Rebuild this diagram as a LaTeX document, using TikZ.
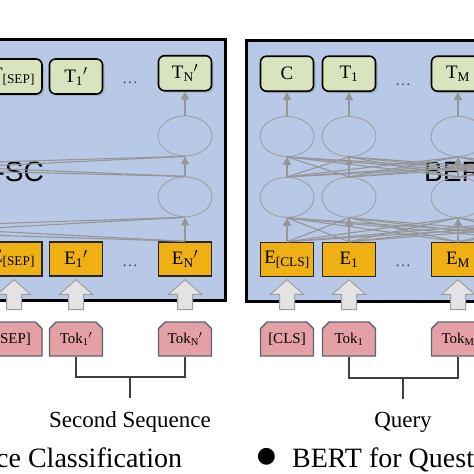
\documentclass[tikz,border=0pt]{standalone}
\usepackage{fontspec}
\setmainfont{Liberation Serif}
\newfontfamily\labelsans{Liberation Sans}
\newfontfamily\symfont{DejaVu Sans}
\usetikzlibrary{arrows.meta, positioning, shapes.geometric, shapes.arrows, shapes.misc, shadows}

\definecolor{panelblue}{RGB}{183,201,230}
\definecolor{outgreen}{RGB}{216,228,190}
\definecolor{embgold}{RGB}{238,176,18}
\definecolor{tokpink}{RGB}{228,160,164}
\definecolor{tokline}{RGB}{90,100,115}
\definecolor{cellgray}{RGB}{160,160,160}
\definecolor{linkgray}{RGB}{150,150,150}

\tikzset{
  panel/.style={draw=black, line width=3pt, fill=panelblue},
  outbox/.style={draw=black, line width=1.6pt, rounded corners=6pt, fill=outgreen,
    minimum width=53pt, minimum height=35pt, inner sep=0pt, font=\fontsize{19}{19}\selectfont,
    drop shadow={shadow xshift=2pt, shadow yshift=-2pt, opacity=0.35}},
  embbox/.style={draw=black!85, line width=1.4pt, fill=embgold,
    minimum width=53pt, minimum height=34pt, inner sep=0pt, font=\fontsize{19}{19}\selectfont},
  tokbox/.style={chamfered rectangle, chamfered rectangle corners={north west,north east},
    chamfered rectangle xsep=3.5pt, draw=tokline, line width=1.4pt, fill=tokpink,
    minimum width=53pt, minimum height=34pt, inner sep=0pt, font=\fontsize{15}{15}\selectfont},
  sepwide/.style={minimum width=58pt},
  cell/.style={ellipse, draw=cellgray, line width=0.9pt, minimum width=54pt, minimum height=40pt, inner sep=0pt},
  flow/.style={draw=linkgray, line width=1.3pt, -{Triangle[width=8pt,length=8pt]}},
  link/.style={draw=linkgray, line width=1.1pt},
  bigarrow/.style={single arrow, shape border rotate=90, draw=gray!75, fill=gray!22, line width=1pt,
    minimum height=30pt, minimum width=32pt, single arrow head extend=9pt,
    single arrow tip angle=97, inner sep=7pt},
  dots/.style={font=\fontsize{16}{16}\selectfont, text=black!70, inner sep=0pt},
  bracket/.style={draw=black!75, line width=1.5pt},
  seqlabel/.style={font=\fontsize{23}{23}\selectfont, anchor=north, inner ysep=13pt},
  caption/.style={font=\fontsize{28}{28}\selectfont, inner sep=0pt},
  bigname/.style={font=\labelsans\fontsize{28}{28}\selectfont, inner sep=0pt},
}

\begin{document}
\begin{tikzpicture}[x=1pt, y=-1pt]
  \useasboundingbox (0,0) rectangle (474,474);
  \clip (0,0) rectangle (474,474);

  % Panels
  \draw[panel] (-300,39) rectangle (225,300);
  \draw[panel] (246,40) rectangle (700,301);

  % Panel names
  \node[bigname, anchor=east] (scname) at (44,172) {-SC};
  \node[bigname, anchor=west] (qaname) at (424,172) {BER};

  % Left panel: embeddings
  \node[embbox, sepwide] (esep) at (13,259) {E\textsubscript{[SEP]}};
  \node[embbox] (eonep) at (76,259) {E\textsubscript{1}$'$};
  \node[dots] (edotsl) at (130,266) {\dots};
  \node[embbox] (ennp) at (185,259) {E\textsubscript{N}$'$};

  % Left panel: hidden layers and outputs
  \node[cell] (lownp) [above=24pt of ennp] {};
  \node[cell] (upnp) [above=20pt of lownp] {};
  \node[outbox, sepwide] (tsep) at (13,76.5) {T\textsubscript{[SEP]}};
  \node[outbox] (tonep) at (76,76.5) {T\textsubscript{1}$'$};
  \node[dots] (tdotsl) at (130,83) {\dots};
  \node[outbox] (tnp) [above=24pt of upnp] {T\textsubscript{N}$'$};

  % Columns further left
  \foreach \c/\x in {fa/-260, fb/-555} {
    \coordinate (\c emb) at (\x,242);
    \coordinate (\c low) at (\x,218);
    \coordinate (\c lowtop) at (\x,178);
    \coordinate (\c up) at (\x,158);
  }
  \foreach \c in {fa, fb} {
    \draw[link] (ennp.north) -- (\c low);
    \draw[link] (\c emb) -- (lownp.south);
    \draw[link] (lownp.north) -- (\c up);
    \draw[link] (\c lowtop) -- (upnp.south);
  }
  \draw[flow] (ennp) -- (lownp);
  \draw[flow] (lownp) -- (upnp);
  \draw[flow] (upnp) -- (tnp);

  % Right panel: embeddings
  \node[embbox] (ecls) at (287,259.5) {E\textsubscript{[CLS]}};
  \node[embbox] (eone) at (349,259.5) {E\textsubscript{1}};
  \node[dots] (edotsr) at (403,266) {\dots};
  \node[embbox] (em) at (458,259.5) {E\textsubscript{M}};

  % Right panel: hidden layers and outputs
  \foreach \n in {cls, one, m} {
    \node[cell] (low\n) [above=24pt of e\n] {};
    \node[cell] (up\n) [above=20pt of low\n] {};
  }
  \node[outbox] (c) [above=24pt of upcls] {C};
  \node[outbox] (tone) [above=24pt of upone] {T\textsubscript{1}};
  \node[dots] (tdotsr) at (403,85) {\dots};
  \node[outbox] (tm) [above=24pt of upm] {T\textsubscript{M}};

  % Columns further right
  \foreach \c/\x in {ga/560, gb/640} {
    \coordinate (\c emb) at (\x,242.5);
    \coordinate (\c low) at (\x,218.5);
    \coordinate (\c lowtop) at (\x,178.5);
    \coordinate (\c up) at (\x,158.5);
  }
  \foreach \i in {cls, one, m} {
    \foreach \j in {cls, one, m} {
      \ifx\i\j\else
        \draw[link] (e\i.north) -- (low\j.south);
        \draw[link] (low\i.north) -- (up\j.south);
      \fi
    }
    \foreach \c in {ga, gb} {
      \draw[link] (e\i.north) -- (\c low);
      \draw[link] (\c emb) -- (low\i.south);
      \draw[link] (low\i.north) -- (\c up);
      \draw[link] (\c lowtop) -- (up\i.south);
    }
    \draw[flow] (e\i) -- (low\i);
    \draw[flow] (low\i) -- (up\i);
  }
  \draw[flow] (upcls) -- (c);
  \draw[flow] (upone) -- (tone);
  \draw[flow] (upm) -- (tm);

  % Input tokens
  \node[tokbox, sepwide] (toksep) at (13,339) {[SEP]};
  \node[tokbox] (tok1p) at (76,339) {Tok\textsubscript{1}$'$};
  \node[tokbox] (toknp) at (185,339) {Tok\textsubscript{N}$'$};
  \node[tokbox] (tokcls) at (287,339) {[CLS]};
  \node[tokbox] (tokone) at (349,339) {Tok\textsubscript{1}};
  \node[tokbox] (tokm) at (458,339) {Tok\textsubscript{M}};

  % Big input arrows
  \foreach \a/\x in {asep/14, aonep/76, anp/185, acls/287, aone/349, am/458}
    \node[bigarrow] (\a) at (\x,298) {};

  % Brackets
  \coordinate (secmid) at (130,377);
  \node[seqlabel] (seclab) at (130,398) {Second Sequence};
  \draw[bracket] (tok1p.south) |- (secmid) -| (toknp.south);
  \draw[bracket] (secmid) -- (seclab.north);

  \coordinate (qmid) at (403,378);
  \node[seqlabel] (qlab) at (403,399) {Query};
  \draw[bracket] (tokone.south) |- (qmid) -| (tokm.south);
  \draw[bracket] (qmid) -- (qlab.north);

  % Captions
  \node[caption, anchor=base west] (capl) at (-4,467) {ce Classification};
  \node[font=\symfont\fontsize{22}{22}\selectfont, inner sep=0pt] (bul) at (266.5,457) {●};
  \node[caption, anchor=base west] (capr) at (292,467) {BERT for Quest};
\end{tikzpicture}
\end{document}
